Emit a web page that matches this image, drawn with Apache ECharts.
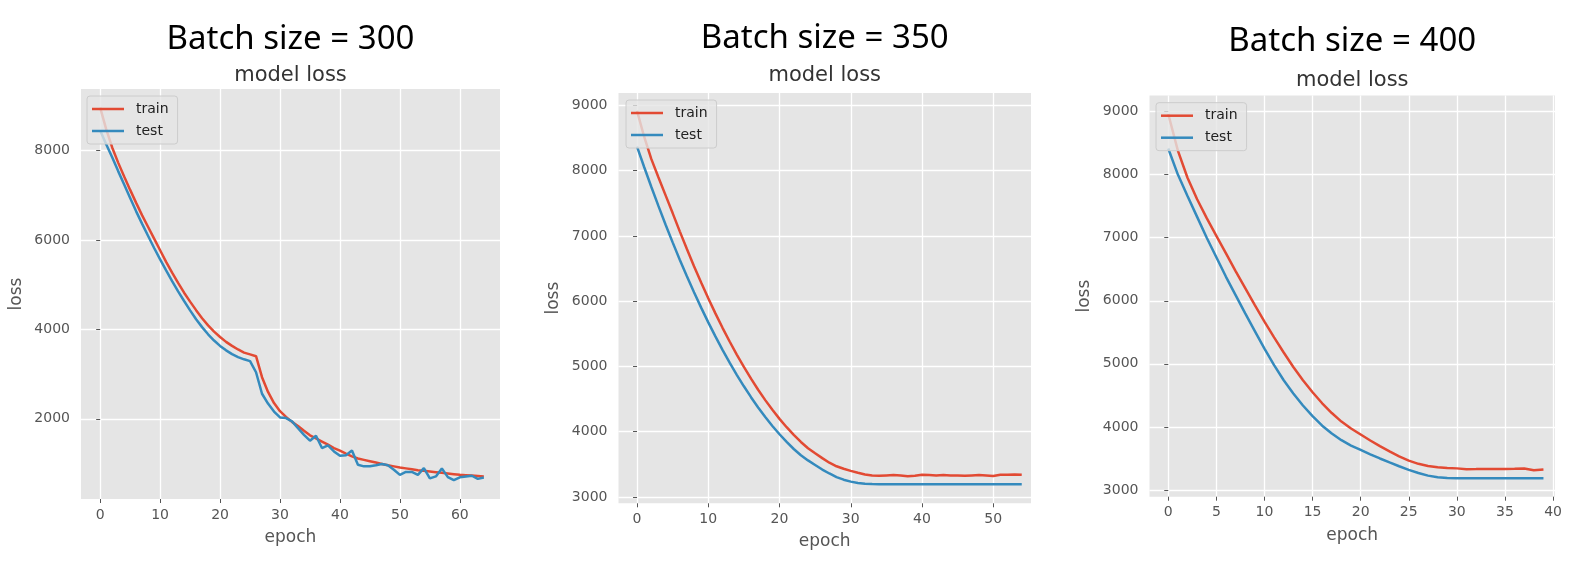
<!DOCTYPE html>
<html>
<head>
<meta charset="utf-8">
<title>model loss by batch size</title>
<script src="https://cdn.jsdelivr.net/npm/echarts@6/dist/echarts.min.js"></script>
<style>
  html, body { margin: 0; padding: 0; background: #fff; }
  #chart { width: 1594px; height: 574px; }
</style>
</head>
<body>
<div id="chart"></div>
<script>
// loss per epoch
const trainLoss300 = [
  8960, 8480, 8070, 7730, 7420, 7120, 6830, 6550, 6290, 6030,
  5770, 5510, 5270, 5040, 4820, 4620, 4430, 4250, 4090, 3950,
  3830, 3720, 3630, 3550, 3480, 3440, 3400, 2930, 2600, 2350,
  2170, 2040, 1930, 1840, 1730, 1630, 1560, 1490, 1420, 1345,
  1285, 1220, 1160, 1110, 1080, 1050, 1020, 990, 960, 935,
  910, 890, 870, 850, 835, 820, 805, 790, 775, 760,
  745, 738, 730, 722, 710
];
const testLoss300 = [
  8450, 8140, 7850, 7540, 7240, 6940, 6640, 6360, 6090, 5820,
  5565, 5320, 5080, 4850, 4635, 4425, 4225, 4050, 3890, 3750,
  3630, 3530, 3445, 3380, 3330, 3290, 3040, 2560, 2340, 2160,
  2030, 2015, 1940, 1790, 1640, 1510, 1620, 1345, 1405, 1270,
  1170, 1185, 1290, 970, 935, 940, 960, 990, 960, 860,
  745, 810, 810, 745, 895, 665, 710, 890, 695, 627,
  690, 710, 725, 655, 685
];
const trainLoss350 = [
  8916, 8520, 8180, 7900, 7625, 7350, 7070, 6800, 6536, 6285,
  6044, 5813, 5592, 5382, 5182, 4992, 4813, 4643, 4484, 4335,
  4197, 4069, 3951, 3843, 3746, 3670, 3595, 3525, 3470, 3432,
  3400, 3370, 3345, 3330, 3325, 3330, 3335, 3328, 3318, 3325,
  3340, 3335, 3330, 3335, 3330, 3330, 3325, 3330, 3335, 3330,
  3322, 3340, 3340, 3345, 3340
];
const testLoss350 = [
  8367, 8056, 7753, 7460, 7175, 6901, 6636, 6381, 6136, 5901,
  5676, 5460, 5254, 5058, 4872, 4696, 4529, 4372, 4225, 4088,
  3961, 3843, 3735, 3640, 3560, 3490, 3420, 3360, 3305, 3265,
  3235, 3215, 3203, 3197, 3195, 3195, 3195, 3195, 3195, 3195,
  3195, 3195, 3195, 3195, 3195, 3195, 3195, 3195, 3195, 3195,
  3195, 3195, 3195, 3195, 3195
];
const trainLoss400 = [
  8960, 8380, 7950, 7610, 7310, 7030, 6750, 6470, 6200, 5930,
  5670, 5420, 5180, 4950, 4740, 4550, 4375, 4220, 4085, 3975,
  3880, 3785, 3695, 3612, 3535, 3465, 3415, 3382, 3362, 3350,
  3343, 3330, 3332, 3335, 3335, 3335, 3337, 3342, 3312, 3325
];
const testLoss400 = [
  8414, 8000, 7660, 7330, 7000, 6690, 6380, 6090, 5800, 5520,
  5240, 4980, 4740, 4530, 4340, 4170, 4020, 3895, 3790, 3705,
  3635, 3565, 3500, 3438, 3377, 3320, 3270, 3228, 3202, 3190,
  3186, 3185, 3185, 3185, 3185, 3185, 3185, 3185, 3185, 3185
];

const batchTitles = ['Batch size = 300', 'Batch size = 350', 'Batch size = 400'];
const xTicks300 = [0, 10, 20, 30, 40, 50, 60];
const xTicks350 = [0, 10, 20, 30, 40, 50];
const xTicks400 = [0, 5, 10, 15, 20, 25, 30, 35, 40];
const yTicks300 = [2000, 4000, 6000, 8000];
const yTicks350 = [3000, 4000, 5000, 6000, 7000, 8000, 9000];
const yTicks400 = [3000, 4000, 5000, 6000, 7000, 8000, 9000];

const TRAIN = '#E24A33';
const TEST = '#348ABD';
const FONT = 'DejaVu Sans';

// one entry per subplot: plot box, axis limits, legend / title spots
const panels = [
  { train: trainLoss300, test: testLoss300, xTicks: xTicks300, yTicks: yTicks300,
    grid: { left: 81, top: 89, width: 419, height: 410 },
    xRange: [-3.2, 66.7], yRange: [205, 9377],
    legend: [87, 96], titleY: 39.8, subY: 75.2 },
  { train: trainLoss350, test: testLoss350, xTicks: xTicks350, yTicks: yTicks350,
    grid: { left: 618.5, top: 93, width: 412.5, height: 410.3 },
    xRange: [-2.6, 55.3], yRange: [2903, 9190],
    legend: [626, 100], titleY: 38.4, subY: 75.4 },
  { train: trainLoss400, test: testLoss400, xTicks: xTicks400, yTicks: yTicks400,
    grid: { left: 1149.5, top: 95.5, width: 405.5, height: 401.2 },
    xRange: [-1.95, 40.2], yRange: [2894, 9254],
    legend: [1156, 102.7], titleY: 41.8, subY: 80.4 }
];

const toPairs = arr => arr.map((v, i) => [i, v]);

const option = {
  animation: false,
  backgroundColor: '#ffffff',
  grid: [], xAxis: [], yAxis: [], series: [], legend: [], graphic: []
};

panels.forEach((p, i) => {
  const g = p.grid;
  option.grid.push(Object.assign({
    show: true, backgroundColor: '#E5E5E5', borderWidth: 0,
    containLabel: false, outerBoundsMode: 'none'
  }, g));

  const tickStyle = { show: true, length: 4, inside: false, lineStyle: { color: '#555555', width: 1 } };
  const labelStyle = { color: '#555555', fontSize: 14, fontFamily: FONT, formatter: v => String(v) };
  const nameStyle = { color: '#555555', fontSize: 17, fontFamily: FONT };

  option.xAxis.push({
    type: 'value', gridIndex: i, min: p.xRange[0], max: p.xRange[1],
    axisLine: { show: false },
    axisTick: Object.assign({ customValues: p.xTicks }, tickStyle),
    axisLabel: Object.assign({ customValues: p.xTicks, margin: 9 }, labelStyle),
    splitLine: { show: true, lineStyle: { color: '#ffffff', width: 1.3 } },
    name: 'epoch', nameLocation: 'middle', nameGap: 30, nameTextStyle: nameStyle
  });
  option.yAxis.push({
    type: 'value', gridIndex: i, min: p.yRange[0], max: p.yRange[1],
    axisLine: { show: false },
    axisTick: Object.assign({ customValues: p.yTicks }, tickStyle),
    axisLabel: Object.assign({ customValues: p.yTicks, margin: 11 }, labelStyle),
    splitLine: { show: true, lineStyle: { color: '#ffffff', width: 1.3 } },
    name: 'loss', nameLocation: 'middle', nameGap: 56, nameTextStyle: nameStyle
  });

  [['train', p.train, TRAIN], ['test', p.test, TEST]].forEach(([name, vals, color]) => {
    option.series.push({
      name: name, type: 'line', xAxisIndex: i, yAxisIndex: i,
      data: toPairs(vals), symbol: 'none', showSymbol: false,
      lineStyle: { color: color, width: 2.5 }, itemStyle: { color: color }
    });
  });

  // plain line swatch, like a matplotlib legend handle
  option.legend.push({
    left: p.legend[0], top: p.legend[1], orient: 'vertical',
    data: ['train', 'test'], icon: 'rect',
    itemWidth: 32, itemHeight: 2.5, itemGap: 6,
    padding: [5, 9, 5, 5],
    backgroundColor: 'rgba(229,229,229,0.8)',
    borderColor: '#cccccc', borderWidth: 1, borderRadius: 3,
    textStyle: { color: '#222222', fontSize: 14, fontFamily: FONT, lineHeight: 16, padding: [0, 0, 0, 7] }
  });

  // figure-level heading and the subplot title, centred over the plot box
  const cx = g.left + g.width / 2;
  option.graphic.push({
    type: 'text', x: cx, y: p.titleY, silent: true,
    style: { text: batchTitles[i], align: 'center', verticalAlign: 'middle',
             font: '33px "Noto Sans"', fill: '#000000' }
  });
  option.graphic.push({
    type: 'text', x: cx, y: p.subY, silent: true,
    style: { text: 'model loss', align: 'center', verticalAlign: 'middle',
             font: '21px "DejaVu Sans"', fill: '#333333' }
  });
});

const chart = echarts.init(document.getElementById('chart'), null, { renderer: 'canvas' });
chart.setOption(option);
</script>
</body>
</html>
